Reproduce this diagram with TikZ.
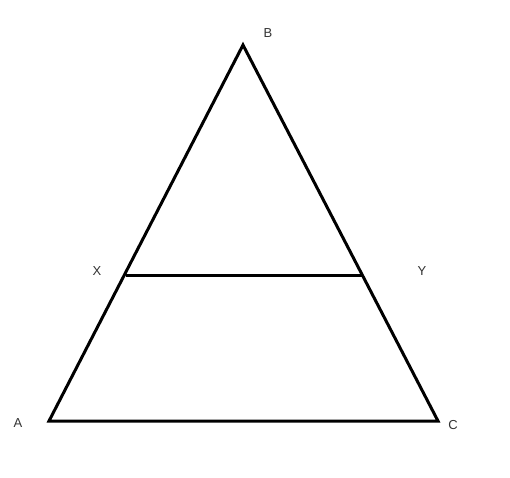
\documentclass[tikz,border=0pt]{standalone}
\usepackage{fontspec}
\setmainfont{Liberation Sans}
\usepackage{tikz}

\begin{document}
\begin{tikzpicture}[x=1pt, y=-1pt, line width=3pt,
    lbl/.style={font=\fontsize{13}{15}\selectfont, text=black!80}]
    \useasboundingbox (0,0) rectangle (510,477);
    \coordinate (A) at (49,421);
    \coordinate (B) at (243,45);
    \coordinate (C) at (438,421);
    \coordinate (X) at (126,275);
    \coordinate (Y) at (363,275);
    \draw[line join=miter] (A) -- (B) -- (C) -- cycle;
    \draw (X) -- (Y);
    \node[lbl] (lA) at (18,423) {A};
    \node[lbl] (lB) at (268,33) {B};
    \node[lbl] (lC) at (453,425) {C};
    \node[lbl] (lX) at (97,271) {X};
    \node[lbl] (lY) at (422,271) {Y};
\end{tikzpicture}
\end{document}
